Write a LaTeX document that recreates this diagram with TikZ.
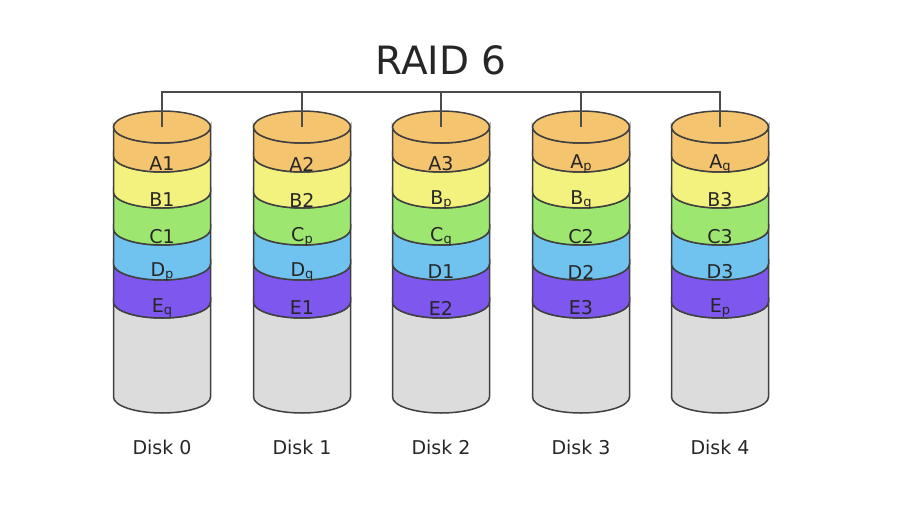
\documentclass[tikz,border=0pt]{standalone}
\usepackage{fontspec}
\setmainfont{DejaVu Sans}
\begin{document}
\begin{tikzpicture}[x=1pt,y=-1pt,
  band/.style={draw=black!75,line width=1.5pt},
  lbl/.style={font=\fontsize{19}{21}\selectfont,text=black!85},
  conn/.style={draw=black!70,line width=1.1pt}]
\useasboundingbox (0,0) rectangle (919,504);
\definecolor{cA}{HTML}{F4C46E}
\definecolor{cB}{HTML}{F3F27E}
\definecolor{cC}{HTML}{9DE770}
\definecolor{cD}{HTML}{70C2EF}
\definecolor{cE}{HTML}{7D57EE}
\definecolor{cG}{HTML}{DCDCDC}
\newcommand{\sbs}[1]{{\fontsize{13}{14}\selectfont\raisebox{-2.5pt}{#1}}}
\node[font=\fontsize{39}{43}\selectfont,text=black!85] (title) at (441,60) {RAID 6};
\def\rx{48.5pt}\def\ry{16pt}
\foreach \i/\cx/\a/\b/\c/\d/\e in {0/162/A1/B1/C1/D\sbs{p}/E\sbs{q},
  1/302/A2/B2/C\sbs{p}/D\sbs{q}/E1,
  2/441/A3/B\sbs{p}/C\sbs{q}/D1/E2,
  3/581/A\sbs{p}/B\sbs{q}/C2/D2/E3,
  4/720/A\sbs{q}/B3/C3/D3/E\sbs{p}}{
  \draw[band,fill=cG] (\cx-48.5,302) -- (\cx-48.5,397) arc[start angle=180,end angle=360,x radius=\rx,y radius=\ry] -- (\cx+48.5,302) arc[start angle=0,end angle=-180,x radius=\rx,y radius=\ry] -- cycle;
  \foreach \t/\bt/\col in {264/302/cE,229/264/cD,192/229/cC,156/192/cB,127/156/cA}{
    \draw[band,fill=\col] (\cx-48.5,\t) -- (\cx-48.5,\bt) arc[start angle=180,end angle=360,x radius=\rx,y radius=\ry] -- (\cx+48.5,\t) arc[start angle=0,end angle=-180,x radius=\rx,y radius=\ry] -- cycle;
  }
  \draw[band,fill=cA] (\cx,127) ellipse[x radius=\rx,y radius=\ry];
  \coordinate (top\i) at (\cx,127);
  \node[lbl] (a\i) at (\cx,164) {\a};
  \node[lbl] (b\i) at (\cx,200) {\b};
  \node[lbl] (c\i) at (\cx,237) {\c};
  \node[lbl] (d\i) at (\cx,272) {\d};
  \node[lbl] (e\i) at (\cx,308) {\e};
  \node[lbl] (disk\i) at (\cx,447) {Disk \i};
}
\coordinate (bus) at (0,92);
\draw[conn] (top0) -- (top0 |- bus) -- (top4 |- bus) -- (top4);
\foreach \i in {1,2,3}{\draw[conn] (top\i |- bus) -- (top\i);}
\end{tikzpicture}
\end{document}
